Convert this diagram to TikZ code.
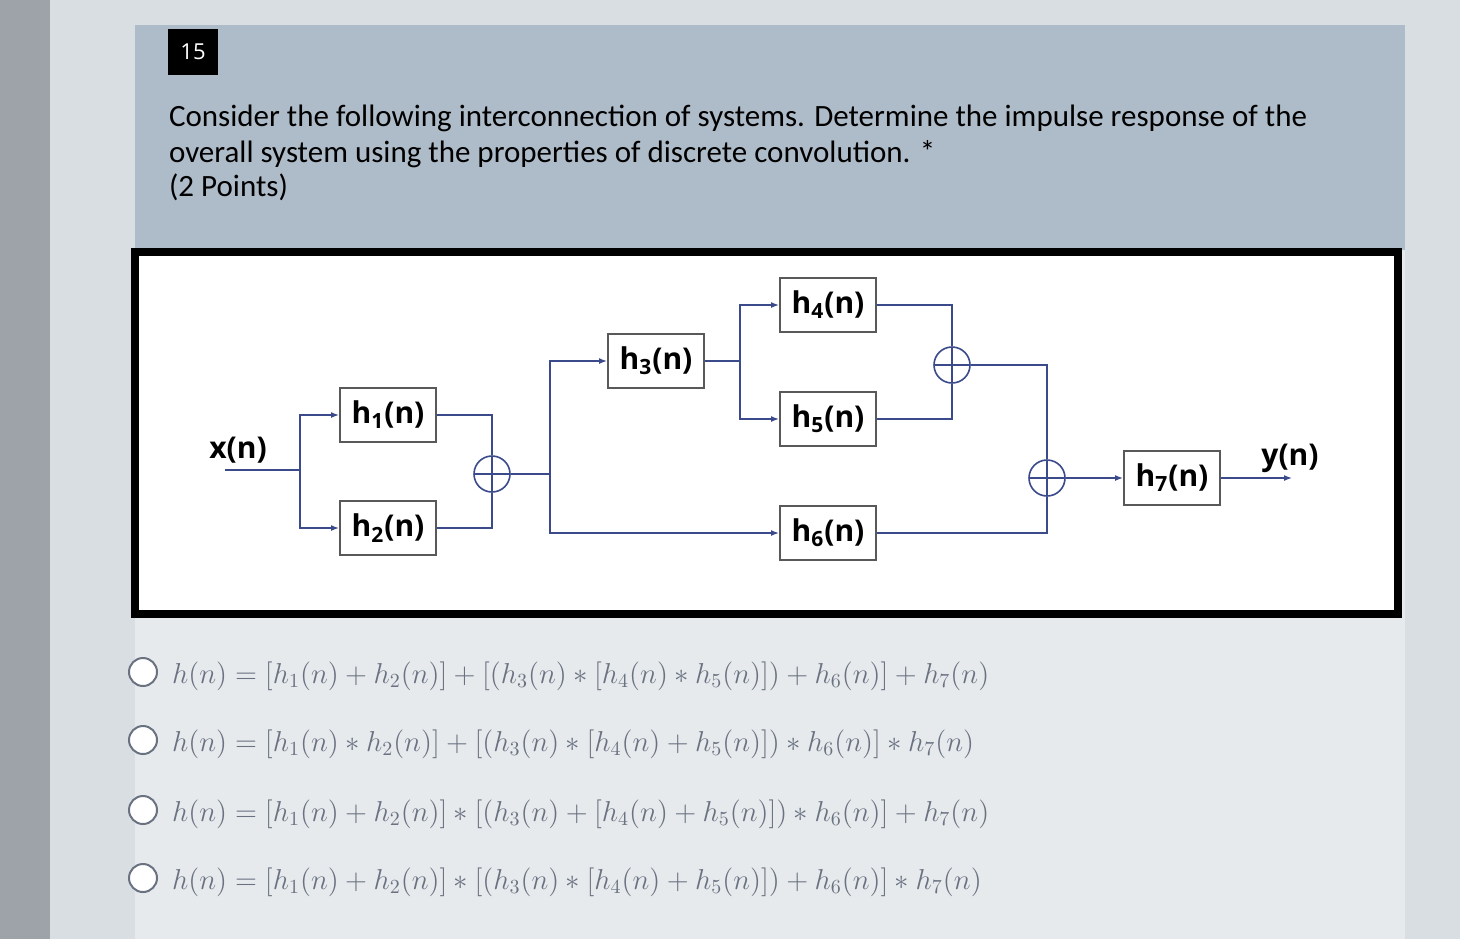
\documentclass[tikz,border=0pt]{standalone}
\usepackage{fontspec}
\setmainfont{Open Sans}
\newfontfamily\qfont{Carlito}
\usepackage{amsmath}
\usetikzlibrary{arrows.meta}
\definecolor{pagebg}{HTML}{D9DEE2}
\definecolor{strip}{HTML}{9DA3A8}
\definecolor{head}{HTML}{AEBBC8}
\definecolor{card}{HTML}{E6EAEC}
\definecolor{wire}{HTML}{3A4A8A}
\definecolor{opt}{HTML}{6A7282}
\begin{document}
\begin{tikzpicture}[x=0.5pt,y=-0.5pt,
  blk/.style={draw=gray!70!black,line width=1pt,fill=white,minimum width=48pt,minimum height=27pt,font=\fontsize{15}{15}\selectfont\bfseries,inner sep=0pt},
  w/.style={draw=wire,line width=0.7pt},
  ar/.style={w,-{Latex[length=4pt,width=3pt]}},
  sm/.style={circle,draw=wire,line width=0.8pt,minimum size=18pt,inner sep=0pt,path picture={\draw[wire,line width=0.8pt] (path picture bounding box.north)--(path picture bounding box.south) (path picture bounding box.west)--(path picture bounding box.east);}},
  lab/.style={font=\fontsize{15}{15}\selectfont\bfseries},
  optc/.style={circle,draw=opt,line width=1pt,minimum size=14pt,inner sep=0pt,fill=white},
  optt/.style={anchor=west,text=opt,font=\fontsize{13.8}{14}\selectfont},
  qt/.style={anchor=west,font=\qfont\fontsize{15.5}{16}\selectfont}]
\useasboundingbox (0,0) rectangle (1460,939);
\fill[pagebg] (0,0) rectangle (1460,939);
\fill[strip] (0,0) rectangle (50,939);
\fill[card] (135,25) rectangle (1405,939);
\fill[head] (135,25) rectangle (1405,250);
\node[fill=black,text=white,minimum width=25pt,minimum height=23pt,font=\fontsize{11}{11}\selectfont] (num) at (193,52) {15};
\node[qt] (q1) at (162,118) {Consider the following interconnection of systems. Determine the impulse response of the};
\node[qt] (q2) at (162,154) {overall system using the properties of discrete convolution. *};
\node[qt] (q3) at (162,187) {(2 Points)};
\draw[line width=4pt,fill=white] (135,252) rectangle (1398,614);
\node[blk] (h1) at (388,415) {h\textsubscript{1}(n)};
\node[blk] (h2) at (388,528) {h\textsubscript{2}(n)};
\node[blk] (h3) at (656,361) {h\textsubscript{3}(n)};
\node[blk] (h4) at (828,305) {h\textsubscript{4}(n)};
\node[blk] (h5) at (828,419) {h\textsubscript{5}(n)};
\node[blk] (h6) at (828,533) {h\textsubscript{6}(n)};
\node[blk] (h7) at (1172,478) {h\textsubscript{7}(n)};
\node[sm] (s1) at (492,474) {};
\node[sm] (s2) at (952,365) {};
\node[sm] (s3) at (1047,478) {};
\node[lab] (x) at (238,450) {x(n)};
\node[lab] (y) at (1290,458) {y(n)};
\coordinate (xin) at (225,470);
\coordinate (yout) at (1292,478);
\coordinate (b1) at (300,470);
\coordinate (b2) at (550,474);
\coordinate (b3) at (740,361);
\draw[w] (xin) -- (b1);
\draw[ar] (b1) |- (h1.west);
\draw[ar] (b1) |- (h2.west);
\draw[w] (h1.east) -| (s1.north);
\draw[w] (h2.east) -| (s1.south);
\draw[w] (s1.east) -- (b2);
\draw[ar] (b2) |- (h3.west);
\draw[ar] (b2) |- (h6.west);
\draw[w] (h3.east) -- (b3);
\draw[ar] (b3) |- (h4.west);
\draw[ar] (b3) |- (h5.west);
\draw[w] (h4.east) -| (s2.north);
\draw[w] (h5.east) -| (s2.south);
\draw[w] (s2.east) -| (s3.north);
\draw[w] (h6.east) -| (s3.south);
\draw[ar] (s3.east) -- (h7.west);
\draw[ar] (h7.east) -- (yout);
\node[optc] (o1) at (143,672) {};
\node[optc] (o2) at (143,740) {};
\node[optc] (o3) at (143,810) {};
\node[optc] (o4) at (143,878) {};
\node[optt] (t1) at (165,676) {$h(n)=[h_1(n)+h_2(n)]+[(h_3(n)*[h_4(n)*h_5(n)])+h_6(n)]+h_7(n)$};
\node[optt] (t2) at (165,744) {$h(n)=[h_1(n)*h_2(n)]+[(h_3(n)*[h_4(n)+h_5(n)])*h_6(n)]*h_7(n)$};
\node[optt] (t3) at (165,814) {$h(n)=[h_1(n)+h_2(n)]*[(h_3(n)+[h_4(n)+h_5(n)])*h_6(n)]+h_7(n)$};
\node[optt] (t4) at (165,882) {$h(n)=[h_1(n)+h_2(n)]*[(h_3(n)*[h_4(n)+h_5(n)])+h_6(n)]*h_7(n)$};
\end{tikzpicture}
\end{document}
